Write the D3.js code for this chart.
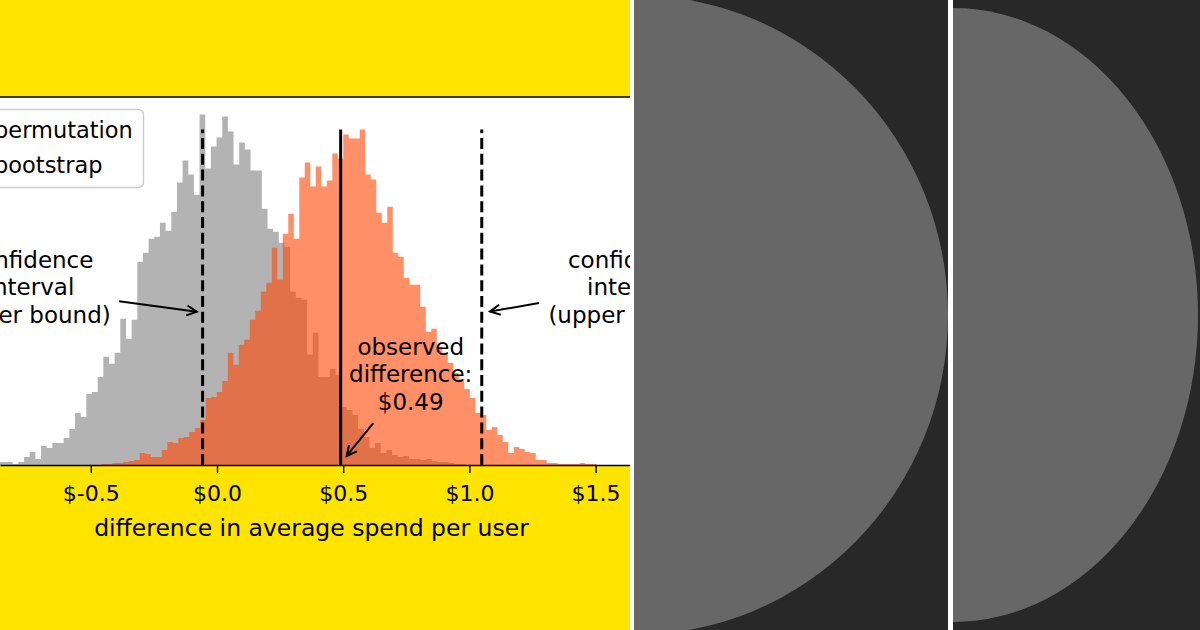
<!DOCTYPE html>
<html><head><meta charset="utf-8">
<script src="https://cdn.jsdelivr.net/npm/d3@7/dist/d3.min.js"></script>
<style>
html,body{margin:0;padding:0;background:#282828;}
svg{display:block;}
text{font-family:"DejaVu Sans",sans-serif;fill:#000;}
</style>
</head><body>
<svg id="chart" width="1200" height="630"></svg>
<script>
// ---------------- data ----------------
const seriesNames = ["permutation", "bootstrap"];
const xTickValues = [-0.5, 0.0, 0.5, 1.0, 1.5];
const axisTitle = "difference in average spend per user";

// permutation distribution histogram (bin start, bin width, counts)
const permBinStart = -0.8765;
const permBinWidth = 0.02243;
const permCounts = [3,3,3,1,3,8,13,6,19,17,22,22,27,36,52,48,71,73,88,108,101,112,146,126,145,
  203,212,226,228,242,234,253,282,304,290,270,350,296,318,327,348,333,300,322,315,294,294,256,236,233,
  222,218,173,167,165,110,132,88,88,96,90,58,55,50,36,28,17,22,12,15,10,8,9,6,6,5,6,4,3,3,2,1,1];

// bootstrap distribution histogram
const bootBinStart = -0.502;
const bootBinWidth = 0.02179;
const bootCounts = [0,0,1,1,2,2,3,4,5,12,11,8,8,15,23,22,27,28,33,37,45,67,68,73,84,112,100,120,125,145,
  154,173,182,217,185,231,251,226,287,302,278,298,278,284,311,306,330,326,326,335,290,285,252,242,258,
  212,208,187,180,180,158,133,136,118,112,102,92,86,76,67,52,50,35,38,30,23,12,18,16,13,12,5,5,2,2,1,1,1,1,2,1,1];

const observedDiff = 0.49;
const ciBounds = [-0.057, 1.049];
const ciLabelLower = ["confidence", "interval", "(lower bound)"];
const ciLabelUpper = ["confidence", "interval", "(upper bound)"];
const observedLabel = ["observed", "difference:", "$0.49"];

// ---------------- layout ----------------
const svg = d3.select("#chart");
const W = 1200, H = 630;
const panelW = 630;
const plot = {left: 0, right: 630, top: 97, bottom: 465};
const FS_TICK = 22, FS_TITLE = 23.5, FS_ANN = 23, FS_LEG = 22.5;
const LINE = 27.5;

// backgrounds
svg.append("rect").attr("x",0).attr("y",0).attr("width",W).attr("height",H).attr("fill","#282828");
svg.append("rect").attr("x",0).attr("y",0).attr("width",panelW).attr("height",H).attr("fill","#ffe400");

// right decorative panels
const defs = svg.append("defs");
defs.append("clipPath").attr("id","p1").append("rect").attr("x",634).attr("y",0).attr("width",314).attr("height",630);
defs.append("clipPath").attr("id","p2").append("rect").attr("x",953).attr("y",0).attr("width",247).attr("height",630);
defs.append("clipPath").attr("id","chartclip").append("rect").attr("x",0).attr("y",0).attr("width",panelW).attr("height",H);
defs.append("clipPath").attr("id","plotclip").append("rect").attr("x",plot.left).attr("y",plot.top).attr("width",plot.right-plot.left).attr("height",plot.bottom-plot.top);

svg.append("rect").attr("x",630).attr("y",0).attr("width",4).attr("height",H).attr("fill","#ffffff");
svg.append("rect").attr("x",948).attr("y",0).attr("width",5).attr("height",H).attr("fill","#ffffff");
svg.append("ellipse").attr("clip-path","url(#p1)").attr("cx",634).attr("cy",315).attr("rx",314).attr("ry",320).attr("fill","#676767");
svg.append("ellipse").attr("clip-path","url(#p2)").attr("cx",953).attr("cy",315).attr("rx",245).attr("ry",307).attr("fill","#676767");

// chart
const g = svg.append("g").attr("clip-path","url(#chartclip)");
g.append("rect").attr("x",plot.left).attr("y",plot.top).attr("width",plot.right-plot.left).attr("height",plot.bottom-plot.top).attr("fill","#ffffff");

const x = d3.scaleLinear().domain([-0.8597, 1.6363]).range([plot.left, plot.right]);
const maxCount = d3.max([d3.max(permCounts), d3.max(bootCounts)]);
const y = d3.scaleLinear().domain([0, maxCount * 1.05]).range([plot.bottom, plot.top]);

function binPoints(start, width, counts) {
  const pts = counts.map((c, i) => ({x: start + i * width, c}));
  pts.push({x: start + counts.length * width, c: counts[counts.length - 1]});
  return pts;
}
const area = d3.area().curve(d3.curveStepAfter)
  .x(d => x(d.x)).y0(y(0)).y1(d => y(d.c));

const pg = g.append("g").attr("clip-path","url(#plotclip)");
pg.append("path").datum(binPoints(permBinStart, permBinWidth, permCounts))
  .attr("d", area).attr("fill","grey").attr("fill-opacity",0.6);
pg.append("path").datum(binPoints(bootBinStart, bootBinWidth, bootCounts))
  .attr("d", area).attr("fill","orangered").attr("fill-opacity",0.6);

// vertical lines
const lineTop = d3.max(bootCounts);
ciBounds.forEach(v => {
  pg.append("line").attr("x1",x(v)).attr("x2",x(v)).attr("y1",y(0)).attr("y2",y(lineTop))
    .attr("stroke","#000").attr("stroke-width",3).attr("stroke-dasharray","11,4.8");
});
pg.append("line").attr("x1",x(observedDiff)).attr("x2",x(observedDiff)).attr("y1",y(0)).attr("y2",y(lineTop))
  .attr("stroke","#000").attr("stroke-width",3);

// spines
g.append("line").attr("x1",plot.left).attr("x2",plot.right).attr("y1",plot.top).attr("y2",plot.top)
  .attr("stroke","#000").attr("stroke-width",1.4);

// x axis
const xAxis = d3.axisBottom(x).tickValues(xTickValues)
  .tickFormat(d => "$" + d.toFixed(1)).tickSize(8).tickSizeOuter(0).tickPadding(12);
const ax = g.append("g").attr("transform",`translate(0,${plot.bottom})`).call(xAxis);
ax.select(".domain").attr("stroke","#000").attr("stroke-width",1.4);
ax.selectAll(".tick line").attr("stroke","#000").attr("stroke-width",1.4);
ax.selectAll(".tick text").attr("font-size",FS_TICK).attr("font-family","DejaVu Sans").attr("fill","#000");

g.append("text").attr("x",311.5).attr("y",536).attr("text-anchor","middle")
  .attr("font-size",FS_TITLE).text(axisTitle);

// legend
const lg = g.append("g");
lg.append("rect").attr("x",-30).attr("y",109.5).attr("width",173.5).attr("height",78).attr("rx",5)
  .attr("fill","#fff").attr("fill-opacity",0.8).attr("stroke","#cccccc").attr("stroke-width",1.4);
seriesNames.forEach((s, i) => {
  lg.append("rect").attr("x",-60).attr("y",122 + i*35).attr("width",40).attr("height",15)
    .attr("fill", i === 0 ? "grey" : "orangered").attr("fill-opacity",0.6);
  lg.append("text").attr("x",-6).attr("y",137.5 + i*35.5).attr("font-size",FS_LEG).text(s);
});

// annotations
function multiline(lines, cx, baseY) {
  const t = g.append("text").attr("font-size",FS_ANN).attr("text-anchor","middle");
  lines.forEach((l, i) => {
    t.append("tspan").attr("x",cx).attr("y",baseY + i*LINE).text(l);
  });
}
function arrow(x1, y1, x2, y2) {
  const ang = Math.atan2(y2 - y1, x2 - x1);
  const hl = 10, hw = 5;
  const bx = x2 - hl*Math.cos(ang), by = y2 - hl*Math.sin(ang);
  const px = -Math.sin(ang)*hw, py = Math.cos(ang)*hw;
  g.append("line").attr("x1",x1).attr("y1",y1).attr("x2",x2).attr("y2",y2)
    .attr("stroke","#000").attr("stroke-width",2);
  g.append("path").attr("d",`M${bx+px},${by+py}L${x2},${y2}L${bx-px},${by-py}`)
    .attr("fill","none").attr("stroke","#000").attr("stroke-width",2).attr("stroke-linejoin","miter");
}
// annotation anchor points in data coordinates (value, count)
multiline(ciLabelLower, x(-0.739), y(197));
arrow(x(-0.388), y(163.5), x(-0.080), y(153));
multiline(ciLabelUpper, x(1.640), y(197));
arrow(x(1.2758), y(161.7), x(1.0816), y(153.3));
multiline(observedLabel, x(0.7675), y(110));
arrow(x(0.6193), y(41.7), x(0.5139), y(9));
</script>
</body></html>
